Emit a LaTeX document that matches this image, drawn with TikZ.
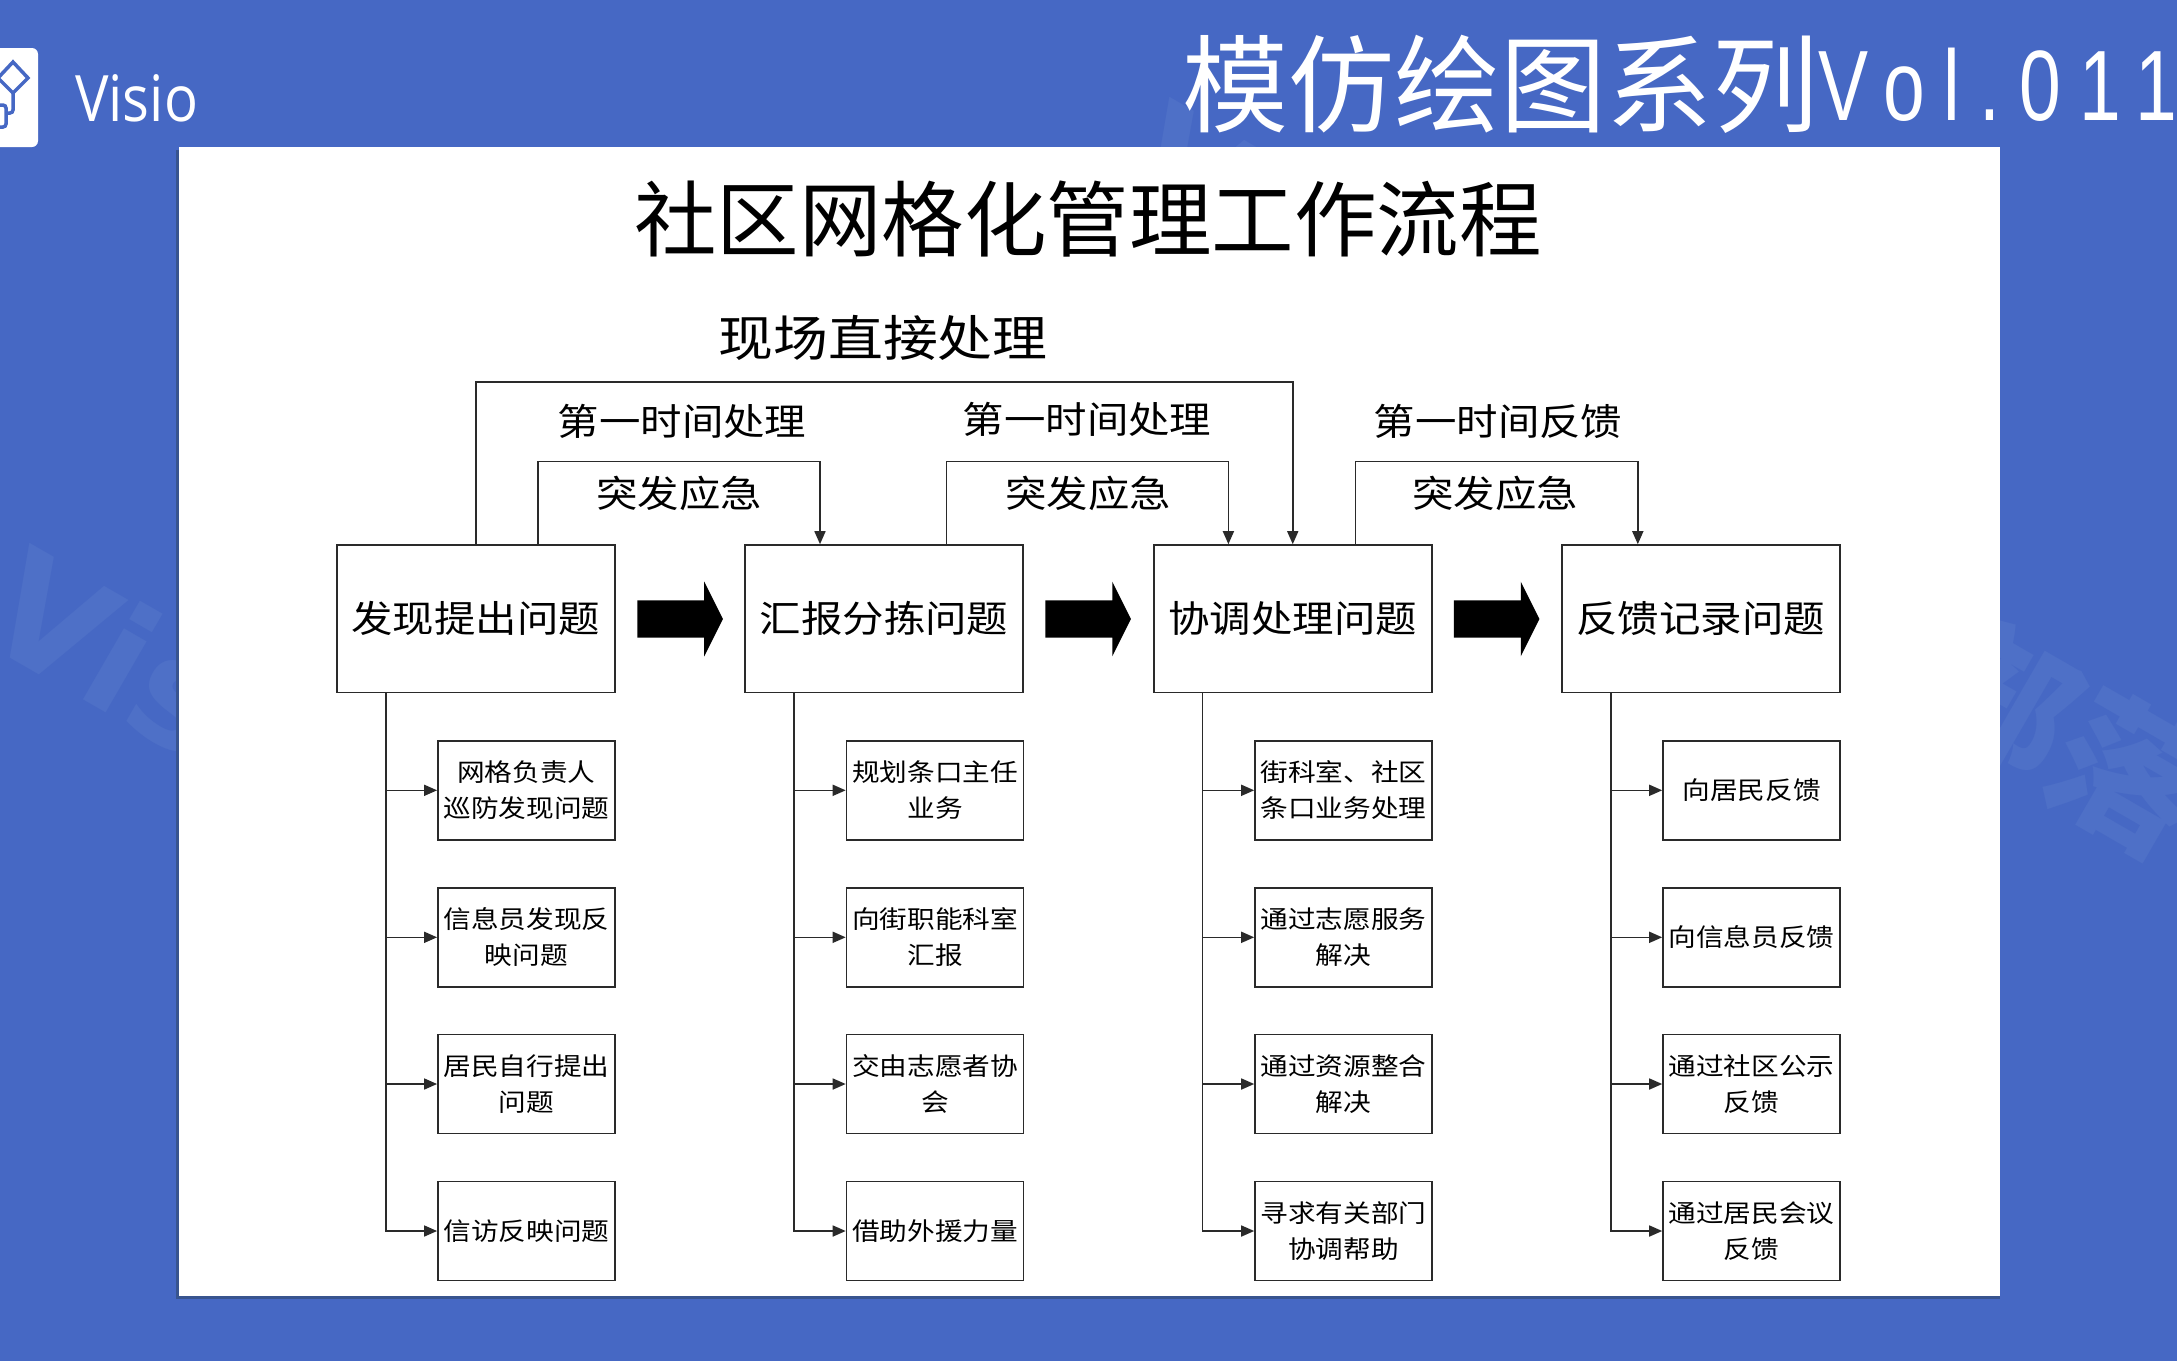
\documentclass[tikz,border=0pt]{standalone}
\usepackage{fontspec}
\setmainfont[FakeStretch=1.12]{Noto Sans CJK SC}
\newfontfamily\plaincjk{Noto Sans CJK SC}
\newfontfamily\thinlatin[FakeStretch=0.75,LetterSpace=19]{Liberation Sans}
\newfontfamily\logofont[FakeStretch=0.88]{Open Sans}
\newfontfamily\markfont{DejaVu Sans}
\usetikzlibrary{arrows.meta,shapes.arrows}
\definecolor{slideblue}{HTML}{4668C4}
\definecolor{markblue}{HTML}{4E70C7}
\definecolor{edgeblue}{HTML}{38548F}
\definecolor{linegray}{HTML}{2A2A2A}
\tikzset{
  mainbox/.style={draw=linegray,line width=1.6pt,fill=white,minimum width=278pt,minimum height=147.5pt,
    inner sep=0pt,font=\fontsize{37}{44}\selectfont},
  subbox/.style={draw=linegray,line width=1.6pt,fill=white,minimum width=177pt,minimum height=99pt,
    inner sep=0pt,align=center,font=\fontsize{24.7}{36}\selectfont},
  label/.style={inner sep=0pt,font=\fontsize{37}{44}\selectfont},
  flow/.style={draw=linegray,line width=1.6pt,-{Triangle[length=13pt,width=11pt]}},
  fatarrow/.style={single arrow,fill=black,inner sep=0pt,text height=37pt,text depth=0pt,minimum height=85.5pt,
    single arrow head extend=18.75pt,single arrow tip angle=127},
  watermark/.style={rotate=-30,anchor=base west,inner sep=0pt,text=markblue,font=\markfont\bfseries\fontsize{150}{150}\selectfont},
}
\begin{document}
\begin{tikzpicture}[x=1pt,y=-1pt]
  \useasboundingbox (0,0) rectangle (2177,1361);
  \fill[slideblue] (0,0) rectangle (2177,1361);
  % faint marks behind the sheet
  \node[watermark] (markleft) at (-26,637) {Vis};
  \node[watermark] (marktop) at (1114,191) {V};
  \node[rotate=-30,inner sep=0pt,text=markblue,font=\plaincjk\bfseries\fontsize{150}{150}\selectfont] (markright) at (2065,737) {部落};
  \fill[edgeblue] (176,150) rectangle (2000,1299);
  \fill[white] (179,147) rectangle (2000,1296);
  % header
  \fill[white,rounded corners=6pt] (-20,48) rectangle (38,147);
  \draw[slideblue,line width=3.5pt] (13,62) -- (28,78) -- (13,93) -- (-2,78) -- cycle;
  \draw[slideblue,line width=3.5pt,rounded corners=3pt] (13,93) -- (13,113) -- (6,113);
  \draw[slideblue,line width=3.5pt,rounded corners=3pt] (-2,105) -- (6,105) -- (6,127) -- (-2,127);
  \node[anchor=base west,inner sep=0pt,text=white,font=\logofont\fontsize{64}{64}\selectfont] (logotext) at (75,121) {Visio};
  \node[anchor=base west,inner sep=0pt,text=white,font=\plaincjk\fontsize{106}{106}\selectfont] (banner) at (1182,124)
    {模仿绘图系列\raisebox{4pt}{\thinlatin\fontsize{100}{100}\selectfont Vol.011}};
  % titles
  \node[inner sep=0pt,font=\plaincjk\fontsize{82.5}{82.5}\selectfont] (title) at (1088,219) {社区网格化管理工作流程};
  \node[inner sep=0pt,font=\fontsize{49}{49}\selectfont] (direct) at (883,338) {现场直接处理};
  \node[label] (first1) at (682,421) {第一时间处理};
  \node[label] (first2) at (1087,419) {第一时间处理};
  \node[label] (first3) at (1498,421) {第一时间反馈};
  \node[label] (urgent1) at (679,493) {突发应急};
  \node[label] (urgent2) at (1088,493) {突发应急};
  \node[label] (urgent3) at (1495,493) {突发应急};
  % main row
  \node[mainbox] (m1) at (475.75,618.75) {发现提出问题};
  \node[mainbox] (m2) at (884,618.75) {汇报分拣问题};
  \node[mainbox] (m3) at (1292.75,618.75) {协调处理问题};
  \node[mainbox] (m4) at (1700.75,618.75) {反馈记录问题};
  \node[fatarrow] (f1) at (675.5,619) {};
  \node[fatarrow] (f2) at (1083.5,619) {};
  \node[fatarrow] (f3) at (1492,619) {};
  % lists under the main row
  \node[subbox] (s11) at (526.4,790.3) {网格负责人\\巡防发现问题};
  \node[subbox] (s12) at (526.4,937.3) {信息员发现反\\映问题};
  \node[subbox] (s13) at (526.4,1084) {居民自行提出\\问题};
  \node[subbox] (s14) at (526.4,1231) {信访反映问题};
  \node[subbox] (s21) at (935,790.3) {规划条口主任\\业务};
  \node[subbox] (s22) at (935,937.3) {向街职能科室\\汇报};
  \node[subbox] (s23) at (935,1084) {交由志愿者协\\会};
  \node[subbox] (s24) at (935,1231) {借助外援力量};
  \node[subbox] (s31) at (1343.5,790.3) {街科室、社区\\条口业务处理};
  \node[subbox] (s32) at (1343.5,937.3) {通过志愿服务\\解决};
  \node[subbox] (s33) at (1343.5,1084) {通过资源整合\\解决};
  \node[subbox] (s34) at (1343.5,1231) {寻求有关部门\\协调帮助};
  \node[subbox] (s41) at (1751.5,790.3) {向居民反馈};
  \node[subbox] (s42) at (1751.5,937.3) {向信息员反馈};
  \node[subbox] (s43) at (1751.5,1084) {通过社区公示\\反馈};
  \node[subbox] (s44) at (1751.5,1231) {通过居民会议\\反馈};
  % bends of the links over the main row
  \coordinate (t1) at (475.75,381.7);
  \coordinate (t2) at (1292.75,381.7);
  \coordinate (b1) at (538,461.6);
  \coordinate (b2) at (820,461.6);
  \coordinate (b3) at (946.3,461.6);
  \coordinate (b4) at (1228.4,461.6);
  \coordinate (b5) at (1355.5,461.6);
  \coordinate (b6) at (1637.8,461.6);
  \draw[flow] (m1.north) -- (t1) -- (t2) -- (m3.north);
  \draw[flow] (m1.north -| b1) -- (b1) -- (b2) -- (m2.north -| b2);
  \draw[flow] (m2.north -| b3) -- (b3) -- (b4) -- (m3.north -| b4);
  \draw[flow] (m3.north -| b5) -- (b5) -- (b6) -- (m4.north -| b6);
  % trunks
  \coordinate (r1) at (386,700);
  \coordinate (r2) at (794,700);
  \coordinate (r3) at (1202.5,700);
  \coordinate (r4) at (1611,700);
  \draw[flow] (m1.south -| r1) |- (s11.west);
  \draw[flow] (m1.south -| r1) |- (s12.west);
  \draw[flow] (m1.south -| r1) |- (s13.west);
  \draw[flow] (m1.south -| r1) |- (s14.west);
  \draw[flow] (m2.south -| r2) |- (s21.west);
  \draw[flow] (m2.south -| r2) |- (s22.west);
  \draw[flow] (m2.south -| r2) |- (s23.west);
  \draw[flow] (m2.south -| r2) |- (s24.west);
  \draw[flow] (m3.south -| r3) |- (s31.west);
  \draw[flow] (m3.south -| r3) |- (s32.west);
  \draw[flow] (m3.south -| r3) |- (s33.west);
  \draw[flow] (m3.south -| r3) |- (s34.west);
  \draw[flow] (m4.south -| r4) |- (s41.west);
  \draw[flow] (m4.south -| r4) |- (s42.west);
  \draw[flow] (m4.south -| r4) |- (s43.west);
  \draw[flow] (m4.south -| r4) |- (s44.west);
\end{tikzpicture}
\end{document}
